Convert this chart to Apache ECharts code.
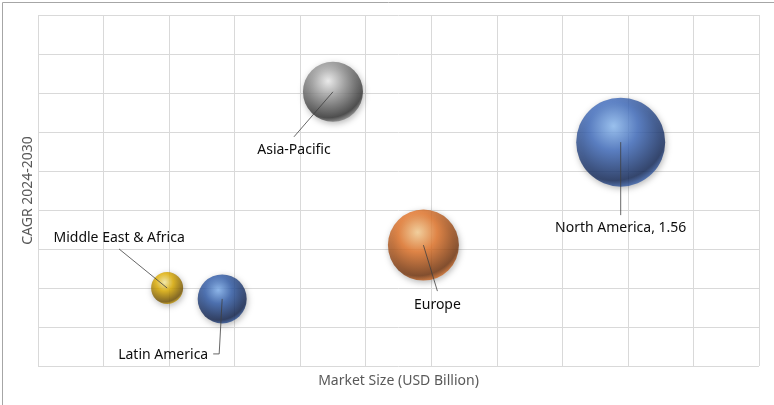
<!DOCTYPE html>
<html>
<head>
<meta charset="utf-8">
<script src="https://cdn.jsdelivr.net/npm/echarts@6/dist/echarts.min.js"></script>
<style>html,body{margin:0;padding:0;background:#fff}#c{width:774px;height:405px}</style>
</head>
<body>
<div id="c"></div>
<script>
// ---- data ----
const regions = ['Asia-Pacific', 'North America', 'Europe', 'Middle East & Africa', 'Latin America'];
const marketSize = [4.50, 8.89, 5.88, 1.97, 2.81];   // x (grid units)
const cagr = [7.03, 5.74, 3.10, 2.00, 1.72];          // y (grid units)
const bubbleSize = [6.0, 8.9, 7.1, 3.2, 4.9];         // relative bubble size
const labelTexts = ['Asia-Pacific', 'North America, 1.56', 'Europe', 'Middle East & Africa', 'Latin America'];
const xTitle = 'Market Size (USD Billion)';
const yTitle = 'CAGR 2024-2030';

// ---- styles ----
const palette = [
  ['#f6f6f6', '#9c9c9c', '#333333'],
  ['#92c2fa', '#426fc2', '#13295a'],
  ['#ffd496', '#e8772a', '#74340c'],
  ['#fff3a6', '#e2b000', '#735200'],
  ['#82b4f4', '#325eac', '#0f214c']
];
// leader line points & text centre, pixel offsets from bubble centre
const leader = [
  { pts: [[0,0],[-39,45]], text: [-39,58] },
  { pts: [[0,0],[0,73]], text: [0,86] },
  { pts: [[0,0],[14,46]], text: [14,60] },
  { pts: [[0,0],[-48,-39]], text: [-48,-50] },
  { pts: [[0,0],[-3,55],[-9,55]], text: [-59,56] }
];
const FONT = '"Noto Sans", sans-serif';

const chart = echarts.init(document.getElementById('c'), null, { renderer: 'canvas' });

const scatterData = regions.map((r, i) => ({
  name: r,
  value: [marketSize[i], cagr[i], bubbleSize[i]],
  itemStyle: {
    color: {
      type: 'radial', x: 0.42, y: 0.32, r: 0.72,
      colorStops: [
        { offset: 0, color: palette[i][0] },
        { offset: 0.38, color: palette[i][1] },
        { offset: 0.85, color: palette[i][2] },
        { offset: 1, color: palette[i][1] }
      ]
    },
    shadowBlur: 6, shadowColor: 'rgba(0,0,0,0.35)', shadowOffsetX: 1, shadowOffsetY: 2
  }
}));

chart.setOption({
  animation: false,
  grid: { left: 38, top: 15, right: 15, bottom: 39 },
  xAxis: {
    type: 'value', min: 0, max: 11, interval: 1,
    name: xTitle, nameLocation: 'middle', nameGap: 8,
    nameTextStyle: { color: '#595959', fontSize: 14, fontFamily: FONT },
    axisLine: { show: false }, axisTick: { show: false }, axisLabel: { show: false },
    splitLine: { show: true, lineStyle: { color: '#d9d9d9', width: 1 } }
  },
  yAxis: {
    type: 'value', min: 0, max: 9, interval: 1,
    name: yTitle, nameLocation: 'middle', nameGap: 3,
    nameTextStyle: { color: '#595959', fontSize: 14, fontFamily: FONT },
    axisLine: { show: false }, axisTick: { show: false }, axisLabel: { show: false },
    splitLine: { show: true, lineStyle: { color: '#d9d9d9', width: 1 } }
  },
  graphic: [{
    type: 'rect', left: 0, top: 0, z: -1,
    shape: { x: 0.5, y: 0.5, width: 772, height: 403 },
    style: { fill: 'none', stroke: '#a6a6a6', lineWidth: 1 }
  }],
  series: [
    {
      type: 'scatter',
      data: scatterData,
      symbolSize: v => v[2] * 10,
      z: 2
    },
    {
      type: 'custom',
      z: 5,
      data: regions.map((r, i) => [marketSize[i], cagr[i]]),
      renderItem: (params, api) => {
        const i = params.dataIndex;
        const c = api.coord([api.value(0), api.value(1)]);
        const L = leader[i];
        return {
          type: 'group',
          children: [
            {
              type: 'polyline',
              shape: { points: L.pts.map(p => [c[0] + p[0], c[1] + p[1]]) },
              style: { stroke: '#404040', lineWidth: 0.8, fill: null }
            },
            {
              type: 'text',
              style: {
                text: labelTexts[i],
                x: c[0] + L.text[0], y: c[1] + L.text[1],
                align: 'center', verticalAlign: 'middle',
                font: '14px ' + FONT, fill: '#0d0d0d'
              }
            }
          ]
        };
      }
    }
  ]
});
</script>
</body>
</html>
